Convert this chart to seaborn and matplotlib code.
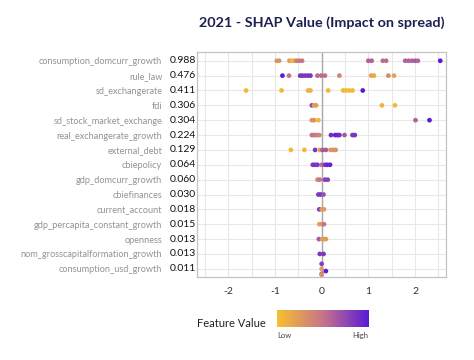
import matplotlib
matplotlib.use('Agg')
import matplotlib.pyplot as plt
import seaborn as sns
import numpy as np
import pandas as pd
from matplotlib.colors import LinearSegmentedColormap

features = ['consumption_domcurr_growth', 'rule_law', 'sd_exchangerate', 'fdi',
            'sd_stock_market_exchange', 'real_exchangerate_growth', 'external_debt',
            'cbiepolicy', 'gdp_domcurr_growth', 'cbiefinances', 'current_account',
            'gdp_percapita_constant_growth', 'openness',
            'nom_grosscapitalformation_growth', 'consumption_usd_growth']
mean_abs = ['0.988', '0.476', '0.411', '0.306', '0.304', '0.224', '0.129', '0.064',
            '0.060', '0.030', '0.018', '0.015', '0.013', '0.013', '0.011']

# shap values per feature (row) and matching normalised feature values (0 low, 1 high)
shap_values = [
    [-0.96, -0.91, -0.69, -0.64, -0.59, -0.54, -0.48, -0.42, 1.0, 1.07, 1.31, 1.38,
     1.79, 1.86, 1.93, 2.0, 2.06, 2.54],
    [-0.84, -0.7, -0.46, -0.41, -0.35, -0.29, -0.24, -0.09, -0.01, 0.07, 0.38,
     1.06, 1.12, 1.43, 1.55],
    [-1.62, -0.86, -0.29, -0.24, 0.14, 0.46, 0.52, 0.59, 0.66, 0.88],
    [-0.21, -0.16, -0.12, 1.29, 1.57],
    [-0.21, -0.16, -0.07, 2.01, 2.31],
    [-0.21, -0.16, -0.11, -0.05, 0.2, 0.29, 0.34, 0.38, 0.49, 0.66, 0.71],
    [-0.66, -0.37, -0.14, -0.04, 0.02, 0.09, 0.19, 0.25, 0.3],
    [-0.19, -0.14, -0.09, 0.0, 0.07, 0.12, 0.18],
    [-0.09, -0.04, 0.07, 0.13],
    [-0.07, -0.02, 0.04],
    [-0.05, 0.0, 0.05],
    [-0.05, 0.0, 0.05],
    [-0.06, 0.01, 0.05, 0.09],
    [-0.04, 0.04],
    [0.0, 0.0, 0.0, 0.0, 0.09],
]
feature_values = [
    [0.3, 0.3, 0.25, 0.1, 0.1, 0.45, 0.5, 0.5, 0.6, 0.6, 0.55, 0.55, 0.6, 0.6, 0.6,
     0.65, 0.6, 1.0],
    [1.0, 0.5, 0.85, 0.85, 0.85, 0.85, 0.85, 0.55, 0.55, 0.55, 0.4, 0.2, 0.15, 0.35, 0.2],
    [0.05, 0.05, 0.1, 0.1, 0.05, 0.05, 0.05, 0.05, 0.05, 1.0],
    [0.75, 0.2, 0.25, 0.1, 0.05],
    [0.3, 0.3, 0.05, 0.6, 1.0],
    [0.5, 0.5, 0.45, 0.4, 0.9, 0.95, 0.95, 0.9, 0.65, 0.85, 0.85],
    [0.05, 0.05, 0.85, 0.2, 0.65, 0.65, 0.3, 0.3, 0.3],
    [0.85, 0.85, 0.85, 0.55, 0.85, 0.95, 0.95],
    [0.35, 0.5, 0.8, 0.8],
    [0.85, 0.85, 0.7],
    [0.85, 0.25, 0.25],
    [0.2, 0.25, 0.5],
    [0.65, 0.25, 0.25, 0.25],
    [0.85, 0.85],
    [0.25, 0.55, 0.8, 0.3, 1.0],
]
xticks = [-2, -1, 0, 1, 2]
title = '2021 - SHAP Value (Impact on spread)'

cmap = LinearSegmentedColormap.from_list('shap', ['#f7c030', '#c7748a', '#5a1bd6'])

rows = []
for feat, sv, fv in zip(features, shap_values, feature_values):
    for s, f in zip(sv, fv):
        rows.append({'feature': feat, 'shap': s, 'value': f})
df = pd.DataFrame(rows)
last = features[-1]

sns.set_theme(style='white')
plt.rcParams['font.family'] = ['Lato', 'DejaVu Sans']

fig = plt.figure(figsize=(4.74, 3.6), dpi=100)
ax = fig.add_axes([0.4156, 0.231, 0.525, 0.625])

ax.set_axisbelow(True)
for xv in np.arange(-2.5, 2.51, 0.5):
    ax.axvline(xv, color='#e8e8e8', lw=0.8, zorder=0)
for i in range(len(features)):
    ax.axhline(i, color='#e8e8e8', lw=0.8, zorder=0)
ax.axvline(0, color='#a8a8a8', lw=1.0, zorder=0.5)

sns.stripplot(data=df[df.feature != last], x='shap', y='feature', hue='value',
              order=features, palette=cmap, hue_norm=(0, 1), jitter=False,
              size=3.4, linewidth=0, legend=False, ax=ax, zorder=3)
sns.swarmplot(data=df[df.feature == last], x='shap', y='feature', hue='value',
              order=features, palette=cmap, hue_norm=(0, 1), size=3.4,
              linewidth=0, legend=False, ax=ax, zorder=3, warn_thresh=1)

ax.set_xlim(-2.67, 2.66)
ax.set_ylim(14.54, -0.6)
ax.set_xticks(xticks)
ax.set_xticklabels([str(t) for t in xticks])
ax.set_xlabel('')
ax.set_ylabel('')
for sp in ax.spines.values():
    sp.set_color('#c4c4c4')
    sp.set_linewidth(0.9)
ax.tick_params(axis='x', length=2, color='#c4c4c4', labelsize=7.5,
               labelcolor='#333333', pad=5)
ax.tick_params(axis='y', length=2, color='#c4c4c4', labelsize=6.6,
               labelcolor='#939393', pad=23)

for i, v in enumerate(mean_abs):
    ax.annotate(v, xy=(0, i), xycoords=('axes fraction', 'data'),
                xytext=(-19.3, 0), textcoords='offset points', ha='left',
                va='center', fontsize=7.5, color='#111111')

fig.text(0.679, 0.937, title, ha='center', va='center', fontsize=10.4,
         fontweight='bold', color='#1b2150')

cax = fig.add_axes([0.584, 0.092, 0.193, 0.047])
cax.imshow(np.linspace(0, 1, 256)[None, :], aspect='auto', cmap=cmap)
cax.set_axis_off()
fig.text(0.561, 0.102, 'Feature Value', ha='right', va='center', fontsize=8,
         color='#222222')
fig.text(0.584, 0.068, 'Low', ha='left', va='center', fontsize=5.5, color='#444444')
fig.text(0.777, 0.068, 'High', ha='right', va='center', fontsize=5.5, color='#444444')

fig.savefig('out.png', dpi=100)
